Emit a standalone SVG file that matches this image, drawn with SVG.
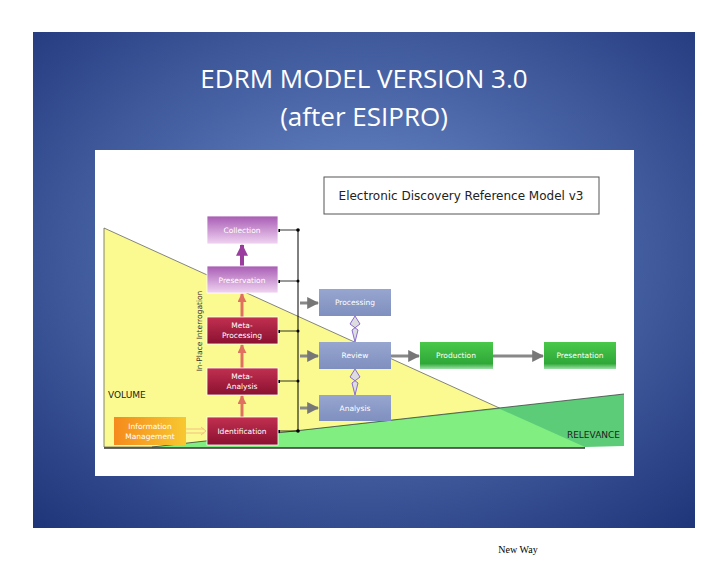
<svg xmlns="http://www.w3.org/2000/svg" width="728" height="563" viewBox="0 0 728 563">
<defs>
<radialGradient id="bg" cx="0.5" cy="0.45" r="0.75"><stop offset="0" stop-color="#6f8fce"/><stop offset="1" stop-color="#1e3478"/></radialGradient>
<linearGradient id="pur" x1="0" y1="0" x2="0" y2="1"><stop offset="0" stop-color="#a85cb4"/><stop offset="1" stop-color="#f0d4f2"/></linearGradient>
<linearGradient id="red" x1="0" y1="0" x2="0" y2="1"><stop offset="0" stop-color="#c23050"/><stop offset="1" stop-color="#8a1030"/></linearGradient>
<linearGradient id="org" x1="0" y1="0" x2="1" y2="0"><stop offset="0" stop-color="#f58a1c"/><stop offset="1" stop-color="#f8c830"/></linearGradient>
<linearGradient id="blu" x1="0" y1="0" x2="0" y2="1"><stop offset="0" stop-color="#97a6cf"/><stop offset="1" stop-color="#7f8fbf"/></linearGradient>
<linearGradient id="grn" x1="0" y1="0" x2="0" y2="1"><stop offset="0" stop-color="#49c84a"/><stop offset="0.8" stop-color="#2fa838"/><stop offset="1" stop-color="#9ee0a8"/></linearGradient>
<marker id="ga" viewBox="0 0 10 10" refX="9" refY="5" markerWidth="4" markerHeight="4" orient="auto"><path d="M0,0 L10,5 L0,10 z" fill="#777"/></marker>
<marker id="sa" viewBox="0 0 10 10" refX="9" refY="5" markerWidth="3" markerHeight="3" orient="auto"><path d="M0,0 L10,5 L0,10 z" fill="#e07060"/></marker>
<marker id="pa" viewBox="0 0 10 10" refX="9" refY="5" markerWidth="3" markerHeight="3" orient="auto"><path d="M0,0 L10,5 L0,10 z" fill="#9a3c9e"/></marker>
</defs>
<style>
.t{font-family:"DejaVu Sans",sans-serif;font-size:7.5px;fill:#fff;text-anchor:middle}
.b{stroke:#fff;stroke-width:0.8}
.dot{fill:#000}
</style>
<rect width="728" height="563" fill="#fff"/>
<rect x="33" y="32" width="662" height="496" fill="url(#bg)"/>
<text x="364" y="88" font-family="Open Sans,sans-serif" font-size="26" fill="#fff" text-anchor="middle">EDRM MODEL VERSION 3.0</text>
<text x="364" y="126" font-family="Open Sans,sans-serif" font-size="26" fill="#fff" text-anchor="middle">(after ESIPRO)</text>
<text x="518" y="553" font-family="Liberation Serif,serif" font-size="10" fill="#000" text-anchor="middle">New Way</text>
<rect x="95" y="150" width="539" height="326" fill="#fff"/>
<g id="background">
<polygon points="104,228 585,447 104,447" fill="#fafa90" stroke="#666" stroke-width="0.8"/>
<polygon points="152,447 624,394 624,446 585,447" fill="#5ccc78"/>
<polygon points="152,447 500,409 585,447" fill="#80ee80"/>
<line x1="152" y1="447" x2="624" y2="394" stroke="#444" stroke-width="0.8"/>
<line x1="104" y1="448" x2="585" y2="448" stroke="#333" stroke-width="1.5"/>
<text x="108" y="398" font-family="DejaVu Sans,sans-serif" font-size="9" fill="#222">VOLUME</text>
<text x="620" y="438" font-family="DejaVu Sans,sans-serif" font-size="9" fill="#222" text-anchor="end">RELEVANCE</text>
<text transform="translate(202,331) rotate(-90)" font-family="DejaVu Sans,sans-serif" font-size="7.5" fill="#333" text-anchor="middle">In-Place Interrogation</text>
</g>
<g id="title"><rect x="324" y="177" width="275" height="37" fill="#fff" stroke="#555"/><text x="461" y="200" font-family="DejaVu Sans,sans-serif" font-size="12" fill="#222" text-anchor="middle">Electronic Discovery Reference Model v3</text></g>
<g id="connectors">
<line x1="298" y1="230" x2="298" y2="431" stroke="#000" stroke-width="1"/>
<g stroke="#000" stroke-width="0.8"><line x1="278" y1="230" x2="298" y2="230"/><line x1="278" y1="281" x2="298" y2="281"/><line x1="278" y1="331" x2="298" y2="331"/><line x1="278" y1="381" x2="298" y2="381"/><line x1="278" y1="431" x2="298" y2="431"/></g>
<g class="dot"><rect x="277" y="229" width="3" height="3"/><circle cx="298" cy="230" r="1.8"/><rect x="277" y="280" width="3" height="3"/><circle cx="298" cy="281" r="1.5"/><rect x="277" y="330" width="3" height="3"/><circle cx="298" cy="331" r="1.5"/><rect x="277" y="380" width="3" height="3"/><circle cx="298" cy="381" r="1.5"/><rect x="277" y="430" width="3" height="3"/><circle cx="298" cy="431" r="1.8"/></g>
<g stroke="#888" stroke-width="3" marker-end="url(#ga)"><line x1="300" y1="303" x2="318" y2="303"/><line x1="300" y1="356" x2="318" y2="356"/><line x1="300" y1="408" x2="318" y2="408"/><line x1="391" y1="356" x2="419" y2="356"/><line x1="493" y1="356" x2="543" y2="356"/></g>
<g stroke="#e07060" stroke-width="3" marker-end="url(#sa)"><line x1="242" y1="417" x2="242" y2="396"/><line x1="242" y1="368" x2="242" y2="345"/><line x1="242" y1="317" x2="242" y2="294"/></g>
<line x1="242" y1="266" x2="242" y2="245" stroke="#9a3c9e" stroke-width="4" marker-end="url(#pa)"/>
<path d="M186,429 H204 M186,433 H204 M201,427 L206,431 L201,435" fill="none" stroke="#f6c080" stroke-width="1"/>
<path d="M355,316 L350,324 L358,330 L355,342 M355,316 L360,324 L352,330 L355,342" fill="#ddd" stroke="#8a6ad0" stroke-width="1"/>
<path d="M355,369 L350,377 L358,383 L355,395 M355,369 L360,377 L352,383 L355,395" fill="#ddd" stroke="#8a6ad0" stroke-width="1"/>
</g>
<g id="collection"><rect class="b" x="207" y="216" width="71" height="28" fill="url(#pur)"/><text class="t" x="242" y="233">Collection</text></g>
<g id="preservation"><rect class="b" x="207" y="266" width="71" height="27" fill="url(#pur)"/><text class="t" x="242" y="283">Preservation</text></g>
<g id="metaprocessing"><rect class="b" x="207" y="317" width="71" height="27" fill="url(#red)"/><text class="t" x="242" y="328">Meta-</text><text class="t" x="242" y="338">Processing</text></g>
<g id="metaanalysis"><rect class="b" x="207" y="368" width="71" height="27" fill="url(#red)"/><text class="t" x="242" y="379">Meta-</text><text class="t" x="242" y="389">Analysis</text></g>
<g id="identification"><rect class="b" x="207" y="417" width="71" height="28" fill="url(#red)"/><text class="t" x="242" y="434">Identification</text></g>
<g id="infomgmt"><rect x="114" y="417" width="72" height="28" fill="url(#org)"/><text class="t" x="150" y="429">Information</text><text class="t" x="150" y="439">Management</text></g>
<g id="processing"><rect x="319" y="289" width="72" height="27" fill="url(#blu)"/><text class="t" x="355" y="305">Processing</text></g>
<g id="review"><rect x="319" y="342" width="72" height="27" fill="url(#blu)"/><text class="t" x="355" y="358">Review</text></g>
<g id="analysis"><rect x="319" y="395" width="72" height="26" fill="url(#blu)"/><text class="t" x="355" y="411">Analysis</text></g>
<g id="production"><rect x="420" y="342" width="73" height="27" fill="url(#grn)"/><text class="t" x="456" y="358">Production</text></g>
<g id="presentation"><rect x="544" y="342" width="72" height="27" fill="url(#grn)"/><text class="t" x="580" y="358">Presentation</text></g>
</svg>
